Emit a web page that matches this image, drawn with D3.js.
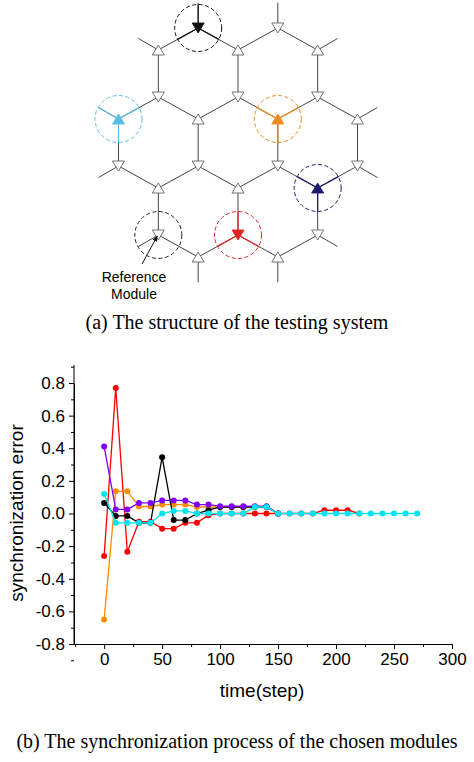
<!DOCTYPE html>
<html>
<head>
<meta charset="utf-8">
<script src="https://cdn.jsdelivr.net/npm/d3@7"></script>
<style>
body { margin: 0; background: #fff; }
svg { display: block; }
</style>
</head>
<body>
<svg id="fig" width="474" height="762"></svg>
<script>
// ---- network data (lattice column / row) ----
var nodeCols = [2, 4, 1, 3, 5, 1, 3, 5, 0, 2, 4, 6, 0, 2, 4, 6, 1, 3, 5, 1, 3, 5, 2, 4];
var nodeRows = [0, 0, 1, 1, 1, 2, 2, 2, 3, 3, 3, 3, 4, 4, 4, 4, 5, 5, 5, 6, 6, 6, 7, 7];
// edges as pairs of node indexes
var edges = [
    [0, 2], [0, 3], [1, 3], [1, 4],
    [2, 5], [3, 6], [4, 7],
    [5, 8], [5, 9], [6, 9], [6, 10], [7, 10], [7, 11],
    [8, 12], [9, 13], [10, 14], [11, 15],
    [12, 16], [13, 16], [13, 17], [14, 17], [14, 18], [15, 18],
    [16, 19], [17, 20], [18, 21],
    [19, 22], [20, 22], [20, 23], [21, 23]
];
// open stubs: node, dx (column units), dy (half-edge units)
var stubs = [[0, 0, -1.1], [1, 0, -1.1], [2, -0.5, -0.5], [4, 0.5, -0.5], [8, -0.5, -0.5], [11, 0.5, -0.5],
             [12, -0.5, 0.5], [15, 0.5, 0.5], [19, -0.5, 0.5], [21, 0.5, 0.5], [22, 0, 1.1], [23, 0, 1.1]];
// highlighted modules: node, colour
var marked = [[0, '#111111'], [8, '#5bbde6'], [10, '#f08a1c'], [18, '#1c1a6e'], [20, '#e0261f'], [19, null]];

// ---- chart data ----
var steps = d3.range(0, 280, 10);
var seriesNames = ['red', 'orange', 'black', 'purple', 'cyan'];
var seriesColors = ['#ff0000', '#ff8c00', '#000000', '#8000ff', '#00e5ee'];
var redVals    = [-0.26, 0.77, -0.235, -0.05, -0.05, -0.093, -0.093, -0.057, -0.057, -0.01, 0, 0, 0, 0, 0, 0, 0, 0, 0, 0.02, 0.02, 0.02, 0];
var orangeVals = [-0.65, 0.136, 0.136, 0.043, 0.043, 0.055, 0.055, 0.055, 0.04, 0.04, 0.04, 0.04, 0.04, 0.04, 0.04, 0];
var blackVals  = [0.065, -0.015, -0.015, -0.057, -0.057, 0.345, -0.04, -0.04, 0, 0.02, 0.04, 0.04, 0.04, 0.04, 0.04, 0];
var purpleVals = [0.41, 0.025, 0.025, 0.065, 0.065, 0.08, 0.08, 0.08, 0.055, 0.055, 0.045, 0.045, 0.045, 0.045, 0.045, 0];
var cyanVals   = [0.12, -0.057, -0.057, -0.057, -0.057, 0, 0.016, 0.016, 0, 0, 0, 0, 0, 0.04, 0.04, 0,
                  0, 0, 0, 0, 0, 0, 0, 0, 0, 0, 0, 0];
var xTicks = [0, 50, 100, 150, 200, 250, 300];
var yTicks = [-0.8, -0.6, -0.4, -0.2, 0.0, 0.2, 0.4, 0.6, 0.8];

var svg = d3.select('#fig');
var blank = function() { return ''; };

/****************************************
** network diagram
*****************************************/
var colX = d3.scaleLinear().domain([0, 6]).range([118.5, 357.5]);
var rowY = function(r) { return 28 + Math.floor(r / 2) * 69 + (r % 2) * 22; };
var unitX = colX(1) - colX(0), halfEdge = 23;
var nx = function(i) { return colX(nodeCols[i]); };
var ny = function(i) { return rowY(nodeRows[i]); };

var net = svg.append('g');
net.selectAll('line.edge').data(edges).enter().append('line')
    .attr('x1', function(d) { return nx(d[0]); }).attr('y1', function(d) { return ny(d[0]); })
    .attr('x2', function(d) { return nx(d[1]); }).attr('y2', function(d) { return ny(d[1]); })
    .attr('stroke', '#444').attr('stroke-width', 1);
net.selectAll('line.stub').data(stubs).enter().append('line')
    .attr('x1', function(d) { return nx(d[0]); }).attr('y1', function(d) { return ny(d[0]); })
    .attr('x2', function(d) { return nx(d[0]) + d[1] * unitX; })
    .attr('y2', function(d) { return ny(d[0]) + d[2] * halfEdge; })
    .attr('stroke', '#444').attr('stroke-width', 1);

// coloured spokes inside highlighted circles
var rad = 23.5;
marked.forEach(function(m) {
    if (!m[1]) return;
    var i = m[0];
    var nb = [];
    edges.forEach(function(e) {
        if (e[0] == i) nb.push(e[1]);
        if (e[1] == i) nb.push(e[0]);
    });
    var dirs = nb.map(function(j) { return [nx(j) - nx(i), ny(j) - ny(i)]; });
    stubs.forEach(function(s) { if (s[0] == i) dirs.push([s[1] * unitX, s[2] * halfEdge]); });
    dirs.forEach(function(d) {
        var L = Math.sqrt(d[0] * d[0] + d[1] * d[1]);
        net.append('line')
            .attr('x1', nx(i)).attr('y1', ny(i))
            .attr('x2', nx(i) + d[0] / L * rad).attr('y2', ny(i) + d[1] / L * rad)
            .attr('stroke', m[1]).attr('stroke-width', 1.2);
    });
});

net.selectAll('circle.mark').data(marked).enter().append('circle')
    .attr('cx', function(d) { return nx(d[0]); }).attr('cy', function(d) { return ny(d[0]); })
    .attr('r', rad).attr('fill', 'none')
    .attr('stroke', function(d) { return d[1] || '#222'; })
    .attr('stroke-width', 1).attr('stroke-dasharray', '4,2.5');

var tri = function(up) {
    return up ? 'M0,-5L6,5L-6,5Z' : 'M0,5L6,-5L-6,-5Z';
};
var fillOf = function(i) {
    for (var k = 0; k < marked.length; k++) if (marked[k][0] == i && marked[k][1]) return marked[k][1];
    return null;
};
net.selectAll('path.node').data(nodeCols).enter().append('path')
    .attr('transform', function(d, i) { return 'translate(' + nx(i) + ',' + ny(i) + ')'; })
    .attr('d', function(d, i) { return tri(nodeRows[i] % 2 == 1); })
    .attr('fill', function(d, i) { return fillOf(i) || '#fff'; })
    .attr('stroke', function(d, i) { return fillOf(i) || '#666'; })
    .attr('stroke-width', 0.9);

// reference arrow
svg.append('defs').append('marker').attr('id', 'ah')
    .attr('viewBox', '0 0 10 10').attr('refX', 9).attr('refY', 5)
    .attr('markerWidth', 6).attr('markerHeight', 6).attr('orient', 'auto')
    .append('path').attr('d', 'M0,1L10,5L0,9Z').attr('fill', '#111');
svg.append('line').attr('x1', 142).attr('y1', 264).attr('x2', nx(19) - 1).attr('y2', ny(19) + 1)
    .attr('stroke', '#111').attr('stroke-width', 1).attr('marker-end', 'url(#ah)');
svg.append('text').attr('x', 134).attr('y', 282).attr('text-anchor', 'middle')
    .style('font', '14px Arial, "Liberation Sans", sans-serif').text('Reference');
svg.append('text').attr('x', 134).attr('y', 299).attr('text-anchor', 'middle')
    .style('font', '14px Arial, "Liberation Sans", sans-serif').text('Module');

svg.append('text').attr('x', 237).attr('y', 329).attr('text-anchor', 'middle')
    .style('font', '20px "Liberation Serif", "DejaVu Serif", serif')
    .text('(a) The structure of the testing system');

/****************************************
** synchronization chart
*****************************************/
var x = d3.scaleLinear().domain([-26, 300]).range([74, 452]);
var y = d3.scaleLinear().domain([-0.8, 0.8]).range([644, 383]);
var font = 'Arial, "Liberation Sans", sans-serif';

var chart = svg.append('g');
chart.append('g').attr('transform', 'translate(0,644)')
    .call(d3.axisBottom(x).tickValues(xTicks).tickSize(5).tickSizeOuter(0).tickPadding(4));
chart.append('g').attr('transform', 'translate(0,644)')
    .call(d3.axisBottom(x).tickValues(d3.range(-25, 300, 50)).tickSize(3).tickFormat(blank))
    .select('.domain').remove();
var yAxis = chart.append('g').attr('transform', 'translate(74,0)')
    .call(d3.axisLeft(y).tickValues(yTicks).tickSize(5).tickSizeOuter(0).tickPadding(4)
        .tickFormat(d3.format('.1f')));
chart.append('g').attr('transform', 'translate(74,0)')
    .call(d3.axisLeft(y).tickValues(d3.range(-0.9, 0.91, 0.2)).tickSize(3).tickFormat(blank))
    .select('.domain').remove();
// extend y axis above 0.8
chart.append('line').attr('x1', 74).attr('x2', 74).attr('y1', 365).attr('y2', 644).attr('stroke', '#000');
chart.selectAll('.tick text').style('font', '17px ' + font).attr('fill', '#000');
chart.selectAll('.domain, .tick line').attr('stroke', '#000');
yAxis.selectAll('.tick text').text(function(d) { return d3.format('.1f')(d).replace('−', '-'); });

chart.append('text').attr('x', 262).attr('y', 697).attr('text-anchor', 'middle')
    .style('font', '19px ' + font).text('time(step)');
chart.append('text').attr('transform', 'translate(23,513) rotate(-90)').attr('text-anchor', 'middle')
    .style('font', '19px ' + font).text('synchronization error');

var allVals = [redVals, orangeVals, blackVals, purpleVals, cyanVals];
var line = d3.line().x(function(d, i) { return x(steps[i]); }).y(function(d) { return y(d); });
allVals.forEach(function(vals, k) {
    var g = chart.append('g').attr('class', 'series-' + seriesNames[k]);
    g.append('path').datum(vals).attr('d', line)
        .attr('fill', 'none').attr('stroke', seriesColors[k]).attr('stroke-width', 1.3);
    g.selectAll('circle').data(vals).enter().append('circle')
        .attr('cx', function(d, i) { return x(steps[i]); })
        .attr('cy', function(d) { return y(d); })
        .attr('r', 3).attr('fill', seriesColors[k]);
});

svg.append('text').attr('x', 237).attr('y', 748).attr('text-anchor', 'middle')
    .style('font', '20px "Liberation Serif", "DejaVu Serif", serif')
    .text('(b) The synchronization process of the chosen modules');
</script>
</body>
</html>
